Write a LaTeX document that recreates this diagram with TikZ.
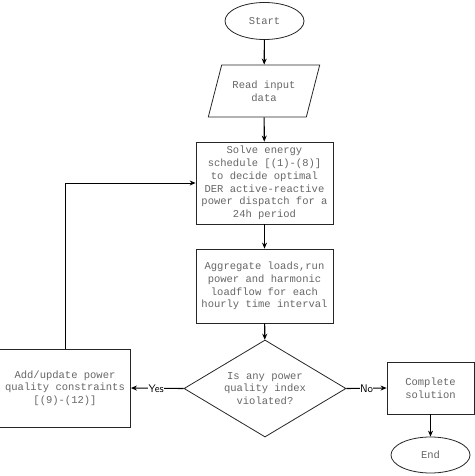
\documentclass[tikz,border=0pt]{standalone}
\usepackage{fontspec}
\setmainfont{Liberation Sans}
\setmonofont{Liberation Mono}
\usetikzlibrary{shapes.geometric,arrows.meta}
\begin{document}
\begin{tikzpicture}[x=1pt,y=-1pt,
  every node/.style={font=\ttfamily\fontsize{10.5}{12.7}\selectfont, text=black!60, align=center, draw=black!85, line width=0.8pt, inner sep=0pt},
  proc/.style={rectangle},
  term/.style={ellipse},
  io/.style={trapezium, trapezium left angle=64, trapezium right angle=116},
  dec/.style={diamond, aspect=1.67},
  arr/.style={-{Stealth[length=6pt,width=5pt]}, line width=1.1pt, black},
  lbl/.style={draw=none, fill=white, text=black, font=\sffamily\fontsize{11}{13}\selectfont, inner sep=0.5pt}
]
\useasboundingbox (0,0) rectangle (474,476);
\node[term, minimum width=79pt, minimum height=37pt] (start) at (264.5,21) {Start};
\node[io, minimum width=112pt, minimum height=52pt, trapezium stretches=true] (read) at (264,91) {Read input\\data};
\node[proc, minimum width=137pt, minimum height=82pt] (solve) at (264.5,183) {Solve energy\\schedule [(1)-(8)]\\to decide optimal\\DER active-reactive\\power dispatch for a\\24h period};
\node[proc, minimum width=137pt, minimum height=74pt] (agg) at (264.5,286) {Aggregate loads,run\\power and harmonic\\loadflow for each\\hourly time interval};
\node[dec, minimum width=162pt, minimum height=97pt] (q) at (265,388.5) {Is any power\\quality index\\violated?};
\node[proc, minimum width=131pt, minimum height=78pt] (add) at (65,388) {Add/update power\\quality constraints\\{}[(9)-(12)]};
\node[proc, minimum width=87pt, minimum height=52pt] (comp) at (430.5,388) {Complete\\solution};
\node[term, minimum width=79pt, minimum height=36pt] (end) at (430.5,455) {End};
\coordinate (corner) at (65,183);
\draw[arr] (start) -- (read);
\draw[arr] (read) -- (solve);
\draw[arr] (solve) -- (agg);
\draw[arr] (agg) -- (q);
\draw[arr] (q.west) -- node[lbl, pos=0.52]{Yes} (add.east);
\draw[arr] (q.east) -- node[lbl, pos=0.5]{No} (comp.west);
\draw[arr] (comp) -- (end);
\draw[arr, line width=0.9pt] (add.north) -- (corner) -- (solve.west);
\end{tikzpicture}
\end{document}
